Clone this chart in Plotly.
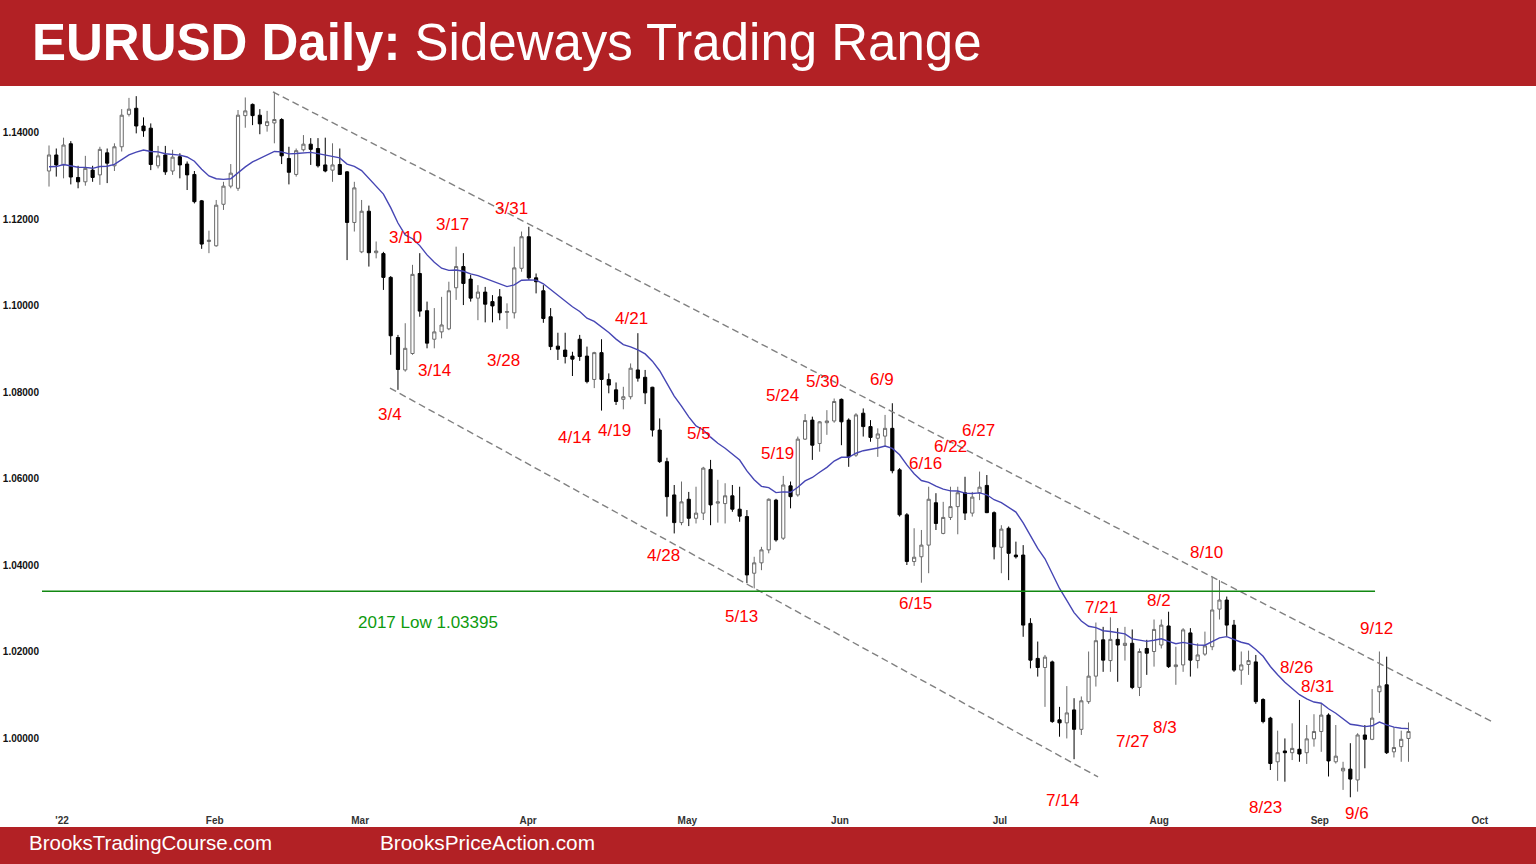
import numpy as np
import pandas as pd
import plotly.graph_objects as go

# ---------------- data ----------------
dates = pd.bdate_range("2021-12-29", "2022-09-16")

opens = [
    1.1311, 1.1348, 1.1325, 1.1374, 1.1296, 1.1286, 1.1313, 1.1302, 1.1353, 1.1323,
    1.1367, 1.1442, 1.1456, 1.1415, 1.1410, 1.1323, 1.1348, 1.1311, 1.1344, 1.1327,
    1.1303, 1.1242, 1.1148, 1.1138, 1.1234, 1.1276, 1.1271, 1.1439, 1.1465, 1.1440,
    1.1416, 1.1422, 1.1430, 1.1340, 1.1303, 1.1360, 1.1373, 1.1363, 1.1325, 1.1313,
    1.1326, 1.1309, 1.1192, 1.1124, 1.1218, 1.1122, 1.1120, 1.1065, 1.0926, 1.0851,
    1.0889, 1.1074, 1.0988, 1.0922, 1.0939, 1.0946, 1.1041, 1.1090, 1.1061, 1.1017,
    1.1031, 1.1009, 1.1020, 1.0984, 1.0983, 1.1086, 1.1159, 1.1064, 1.1034, 1.0974,
    1.0906, 1.0897, 1.0883, 1.0922, 1.0883, 1.0829, 1.0891, 1.0829, 1.0805, 1.0783,
    1.0789, 1.0851, 1.0834, 1.0811, 1.0712, 1.0639, 1.0562, 1.0498, 1.0552, 1.0508,
    1.0520, 1.0621, 1.0543, 1.0542, 1.0560, 1.0529, 1.0512, 1.0381, 1.0405, 1.0435,
    1.0550, 1.0462, 1.0583, 1.0562, 1.0691, 1.0735, 1.0681, 1.0729, 1.0733, 1.0783,
    1.0735, 1.0654, 1.0751, 1.0720, 1.0693, 1.0698, 1.0716, 1.0620, 1.0516, 1.0408,
    1.0419, 1.0446, 1.0544, 1.0473, 1.0510, 1.0535, 1.0567, 1.0520, 1.0567, 1.0584,
    1.0521, 1.0441, 1.0485, 1.0423, 1.0423, 1.0265, 1.0184, 1.0163, 1.0176, 1.0042,
    1.0035, 1.0065, 1.0020, 1.0084, 1.0143, 1.0227, 1.0179, 1.0228, 1.0214, 1.0219,
    1.0117, 1.0207, 1.0200, 1.0215, 1.0259, 1.0165, 1.0169, 1.0243, 1.0179, 1.0194,
    1.0211, 1.0298, 1.0319, 1.0261, 1.0157, 1.0170, 1.0176, 1.0089, 1.0046, 0.9945,
    0.9970, 0.9966, 0.9974, 0.9966, 0.9998, 1.0015, 1.0053, 0.9945, 0.9924, 0.9928,
    0.9903, 1.0007, 0.9997, 1.0107, 1.0123, 0.9968, 0.9980, 0.9999,
]

highs = [
    1.1370, 1.1363, 1.1388, 1.1380, 1.1323, 1.1346, 1.1323, 1.1367, 1.1363, 1.1375,
    1.1454, 1.1480, 1.1484, 1.1435, 1.1421, 1.1369, 1.1369, 1.1360, 1.1352, 1.1333,
    1.1311, 1.1244, 1.1173, 1.1244, 1.1286, 1.1327, 1.1452, 1.1481, 1.1467, 1.1454,
    1.1450, 1.1494, 1.1433, 1.1367, 1.1363, 1.1394, 1.1387, 1.1387, 1.1388, 1.1375,
    1.1363, 1.1311, 1.1286, 1.1244, 1.1231, 1.1148, 1.1124, 1.1068, 1.0932, 1.0959,
    1.1094, 1.1121, 1.1009, 1.0994, 1.1020, 1.1055, 1.1136, 1.1121, 1.1071, 1.1047,
    1.1043, 1.1024, 1.1038, 1.1005, 1.1136, 1.1171, 1.1182, 1.1074, 1.1047, 1.0994,
    1.0937, 1.0937, 1.0893, 1.0932, 1.0905, 1.0893, 1.0922, 1.0843, 1.0822, 1.0812,
    1.0866, 1.0936, 1.0851, 1.0812, 1.0739, 1.0648, 1.0585, 1.0593, 1.0569, 1.0581,
    1.0627, 1.0643, 1.0597, 1.0589, 1.0585, 1.0581, 1.0527, 1.0419, 1.0442, 1.0554,
    1.0553, 1.0606, 1.0593, 1.0697, 1.0749, 1.0743, 1.0733, 1.0758, 1.0785, 1.0785,
    1.0739, 1.0751, 1.0762, 1.0735, 1.0716, 1.0747, 1.0774, 1.0624, 1.0520, 1.0485,
    1.0481, 1.0581, 1.0566, 1.0546, 1.0581, 1.0581, 1.0604, 1.0569, 1.0616, 1.0608,
    1.0524, 1.0492, 1.0489, 1.0454, 1.0446, 1.0277, 1.0223, 1.0192, 1.0179, 1.0072,
    1.0120, 1.0092, 1.0096, 1.0200, 1.0267, 1.0257, 1.0279, 1.0254, 1.0257, 1.0251,
    1.0207, 1.0227, 1.0274, 1.0274, 1.0292, 1.0211, 1.0254, 1.0254, 1.0219, 1.0246,
    1.0373, 1.0365, 1.0327, 1.0273, 1.0200, 1.0202, 1.0192, 1.0092, 1.0049, 1.0017,
    0.9999, 1.0034, 1.0088, 1.0030, 1.0055, 1.0080, 1.0057, 1.0030, 0.9945, 0.9988,
    1.0011, 1.0030, 1.0113, 1.0200, 1.0188, 1.0025, 1.0017, 1.0036,
]

lows = [
    1.1275, 1.1298, 1.1294, 1.1280, 1.1271, 1.1277, 1.1286, 1.1279, 1.1283, 1.1311,
    1.1356, 1.1437, 1.1398, 1.1390, 1.1313, 1.1317, 1.1302, 1.1302, 1.1294, 1.1267,
    1.1236, 1.1131, 1.1121, 1.1136, 1.1221, 1.1271, 1.1265, 1.1411, 1.1417, 1.1396,
    1.1402, 1.1375, 1.1327, 1.1280, 1.1298, 1.1356, 1.1325, 1.1319, 1.1308, 1.1286,
    1.1302, 1.1105, 1.1171, 1.1121, 1.1090, 1.1109, 1.1036, 1.0886, 1.0805, 1.0847,
    1.0886, 1.0974, 1.0901, 1.0901, 1.0924, 1.0943, 1.1013, 1.1001, 1.1009, 1.0966,
    1.0961, 1.0961, 1.0966, 1.0946, 1.0970, 1.1078, 1.1059, 1.1028, 1.0960, 1.0897,
    1.0874, 1.0866, 1.0837, 1.0872, 1.0820, 1.0809, 1.0757, 1.0797, 1.0770, 1.0760,
    1.0783, 1.0824, 1.0772, 1.0697, 1.0636, 1.0512, 1.0473, 1.0492, 1.0490, 1.0496,
    1.0504, 1.0492, 1.0498, 1.0496, 1.0523, 1.0500, 1.0358, 1.0346, 1.0388, 1.0427,
    1.0454, 1.0458, 1.0531, 1.0558, 1.0689, 1.0643, 1.0662, 1.0701, 1.0729, 1.0677,
    1.0627, 1.0650, 1.0697, 1.0685, 1.0650, 1.0675, 1.0612, 1.0512, 1.0400, 1.0398,
    1.0359, 1.0381, 1.0481, 1.0471, 1.0504, 1.0471, 1.0504, 1.0512, 1.0550, 1.0520,
    1.0413, 1.0381, 1.0365, 1.0415, 1.0234, 1.0161, 1.0142, 1.0072, 1.0035, 1.0003,
    0.9999, 0.9951, 1.0007, 1.0079, 1.0119, 1.0153, 1.0153, 1.0130, 1.0179, 1.0113,
    1.0097, 1.0146, 1.0165, 1.0207, 1.0162, 1.0123, 1.0153, 1.0142, 1.0161, 1.0190,
    1.0203, 1.0274, 1.0236, 1.0153, 1.0123, 1.0146, 1.0079, 1.0034, 0.9926, 0.9901,
    0.9899, 0.9949, 0.9945, 0.9940, 0.9980, 0.9968, 0.9911, 0.9941, 0.9880, 0.9863,
    0.9876, 0.9930, 0.9995, 1.0058, 0.9963, 0.9955, 0.9945, 0.9945,
]

closes = [
    1.1348, 1.1325, 1.1371, 1.1297, 1.1286, 1.1317, 1.1296, 1.1361, 1.1329, 1.1367,
    1.1440, 1.1454, 1.1415, 1.1404, 1.1326, 1.1346, 1.1309, 1.1343, 1.1325, 1.1302,
    1.1240, 1.1142, 1.1151, 1.1232, 1.1276, 1.1306, 1.1440, 1.1450, 1.1439, 1.1420,
    1.1425, 1.1430, 1.1346, 1.1308, 1.1358, 1.1373, 1.1361, 1.1323, 1.1311, 1.1325,
    1.1303, 1.1192, 1.1272, 1.1218, 1.1122, 1.1126, 1.1065, 1.0930, 1.0852, 1.0901,
    1.1072, 1.0987, 1.0913, 1.0939, 1.0955, 1.1034, 1.1090, 1.1051, 1.1017, 1.1031,
    1.1003, 1.0999, 1.0983, 1.0986, 1.1087, 1.1159, 1.1064, 1.1055, 1.0970, 1.0905,
    1.0899, 1.0882, 1.0876, 1.0882, 1.0824, 1.0891, 1.0829, 1.0816, 1.0778, 1.0789,
    1.0855, 1.0832, 1.0798, 1.0712, 1.0639, 1.0558, 1.0498, 1.0546, 1.0508, 1.0520,
    1.0624, 1.0539, 1.0546, 1.0560, 1.0529, 1.0513, 1.0377, 1.0405, 1.0435, 1.0552,
    1.0458, 1.0585, 1.0558, 1.0691, 1.0734, 1.0677, 1.0731, 1.0733, 1.0778, 1.0731,
    1.0650, 1.0747, 1.0720, 1.0695, 1.0703, 1.0716, 1.0618, 1.0516, 1.0408, 1.0418,
    1.0446, 1.0552, 1.0496, 1.0510, 1.0535, 1.0567, 1.0520, 1.0557, 1.0580, 1.0521,
    1.0442, 1.0483, 1.0427, 1.0419, 1.0261, 1.0180, 1.0163, 1.0187, 1.0038, 1.0035,
    1.0058, 1.0020, 1.0086, 1.0143, 1.0225, 1.0180, 1.0228, 1.0215, 1.0219, 1.0117,
    1.0200, 1.0196, 1.0251, 1.0261, 1.0165, 1.0169, 1.0250, 1.0180, 1.0192, 1.0213,
    1.0296, 1.0319, 1.0261, 1.0157, 1.0169, 1.0179, 1.0084, 1.0038, 0.9941, 0.9966,
    0.9966, 0.9976, 0.9963, 0.9998, 1.0015, 1.0053, 0.9947, 0.9958, 0.9930, 0.9905,
    1.0007, 0.9997, 1.0046, 1.0120, 0.9966, 0.9978, 0.9997, 1.0015,
]

ema_period = 20
ema_seed = 1.1318

month_labels = ["'22", "Feb", "Mar", "Apr", "May", "Jun", "Jul", "Aug", "Sep", "Oct"]
# label positions on the bar-index axis
month_label_pos = [1.8, 22.8, 42.8, 65.9, 87.8, 108.8, 130.8, 152.7, 174.8, 196.8]

price_ticks = [1.00, 1.02, 1.04, 1.06, 1.08, 1.10, 1.12, 1.14]

low_2017 = 1.03395
low_2017_label = "2017 Low 1.03395"

# channel lines: (bar index, price) end points
upper_channel_x = [30.8, 198.6]
upper_channel_y = [1.1494, 1.0037]
lower_channel_x = [46.9, 144.3]
lower_channel_y = [1.0809, 0.9910]
support_end_x = 182.4

# swing-point labels: (text, bar index, price)
swing_labels = [
    ("3/10", 48.97, 1.1158), ("3/17", 55.57, 1.1188), ("3/31", 63.55, 1.1225),
    ("3/14", 53.09, 1.0849), ("3/28", 62.45, 1.0872), ("3/4", 46.9, 1.0749),
    ("4/21", 80.06, 1.0971), ("4/14", 72.35, 1.0694), ("4/19", 77.72, 1.0712),
    ("5/5", 89.41, 1.0705), ("4/28", 84.46, 1.0423), ("5/13", 95.19, 1.0280),
    ("5/24", 100.83, 1.0793), ("5/30", 106.33, 1.0825), ("6/9", 114.58, 1.0830),
    ("5/19", 100.14, 1.0657), ("6/16", 120.63, 1.0634), ("6/22", 124.07, 1.0673),
    ("6/27", 127.79, 1.0712), ("6/15", 119.12, 1.0310), ("8/10", 159.28, 1.0428),
    ("7/21", 144.84, 1.0301), ("8/2", 152.68, 1.0319), ("8/3", 153.51, 1.0025),
    ("7/27", 148.97, 0.9992), ("7/14", 139.41, 0.98555), ("9/12", 182.6, 1.0254),
    ("8/26", 171.53, 1.0162), ("8/31", 174.42, 1.0118), ("8/23", 167.33, 0.98382),
    ("9/6", 179.92, 0.98266),
]
low_label_pos = (52.13, 1.0268)

# ---------------- derived ----------------
x = np.arange(len(dates))
alpha = 2.0 / (ema_period + 1)
ema = []
prev = ema_seed
for c in closes:
    prev = prev + alpha * (c - prev)
    ema.append(prev)

# ---------------- layout geometry ----------------
W, H = 1536, 864
L, R, T, B = 42, 0, 86, 51
PW, PH = W - L - R, H - T - B
BAR_PX = 7.27          # pixel spacing between bars
FIRST_BAR_PX = 49      # pixel position of the first bar


def pxx(p):
    return (p - L) / PW


def pxy(p):
    return (H - B - p) / PH


BANNER = "#B22125"
FONT = "Liberation Sans, Arial, sans-serif"

fig = go.Figure()

fig.add_trace(go.Candlestick(
    x=x, open=opens, high=highs, low=lows, close=closes,
    text=[d.strftime("%Y-%m-%d") for d in dates], hoverinfo="text+y",
    increasing=dict(line=dict(color="#6a6a6a", width=1), fillcolor="#ffffff"),
    decreasing=dict(line=dict(color="#000000", width=1), fillcolor="#000000"),
    whiskerwidth=0, showlegend=False,
))

fig.add_trace(go.Scatter(
    x=x, y=ema, mode="lines", line=dict(color="#4646B4", width=1.4),
    hoverinfo="skip", showlegend=False,
))

shapes = [
    dict(type="rect", xref="paper", yref="paper", x0=pxx(0), x1=pxx(W), y0=pxy(86), y1=pxy(0),
         fillcolor=BANNER, line=dict(width=0), layer="above"),
    dict(type="rect", xref="paper", yref="paper", x0=pxx(0), x1=pxx(W), y0=pxy(H), y1=pxy(827),
         fillcolor=BANNER, line=dict(width=0), layer="above"),
    dict(type="line", xref="x", yref="y", x0=upper_channel_x[0], y0=upper_channel_y[0],
         x1=upper_channel_x[1], y1=upper_channel_y[1],
         line=dict(color="#808080", width=1.4, dash="7px,4px")),
    dict(type="line", xref="x", yref="y", x0=lower_channel_x[0], y0=lower_channel_y[0],
         x1=lower_channel_x[1], y1=lower_channel_y[1],
         line=dict(color="#808080", width=1.4, dash="7px,4px")),
    dict(type="line", xref="x", yref="y", x0=-1, y0=low_2017, x1=support_end_x, y1=low_2017,
         line=dict(color="#118811", width=1.5)),
]

annotations = [
    dict(xref="paper", yref="paper", x=pxx(30), y=pxy(42.5), xanchor="left", yanchor="middle",
         text="<b>EURUSD Daily:</b> Sideways Trading Range", showarrow=False,
         font=dict(family=FONT, size=51, color="white")),
    dict(xref="paper", yref="paper", x=pxx(27), y=pxy(843), xanchor="left", yanchor="middle",
         text="BrooksTradingCourse.com", showarrow=False,
         font=dict(family=FONT, size=20.5, color="white")),
    dict(xref="paper", yref="paper", x=pxx(378), y=pxy(843), xanchor="left", yanchor="middle",
         text="BrooksPriceAction.com", showarrow=False,
         font=dict(family=FONT, size=20.8, color="white")),
    dict(xref="x", yref="y", x=low_label_pos[0], y=low_label_pos[1], text=low_2017_label,
         showarrow=False, xanchor="center", yanchor="middle",
         font=dict(family=FONT, size=17, color="#0E9A0E")),
]
for txt, bx, by in swing_labels:
    annotations.append(dict(xref="x", yref="y", x=bx, y=by, text=txt, showarrow=False,
                            xanchor="center", yanchor="middle",
                            font=dict(family=FONT, size=17, color="#FF0000")))

fig.update_layout(
    width=W, height=H,
    margin=dict(l=L, r=R, t=T, b=B, pad=0),
    paper_bgcolor="white", plot_bgcolor="white",
    shapes=shapes, annotations=annotations,
    boxgap=0.38,
    hovermode="closest",
    xaxis=dict(range=[(L - FIRST_BAR_PX) / BAR_PX, (W - FIRST_BAR_PX) / BAR_PX],
               tickvals=month_label_pos, ticktext=month_labels,
               showgrid=False, zeroline=False, showline=False, ticks="",
               tickfont=dict(family=FONT, size=10, color="#333333", weight="bold"),
               rangeslider=dict(visible=False), fixedrange=True),
    yaxis=dict(range=[0.98266, 1.15075], tickvals=price_ticks,
               ticktext=[f"{v:.5f}" for v in price_ticks],
               showgrid=False, zeroline=False, showline=False, ticks="",
               ticklabelstandoff=2,
               tickfont=dict(family=FONT, size=10, color="#111111", weight="bold"),
               fixedrange=True),
)

fig.write_html("out.html")
